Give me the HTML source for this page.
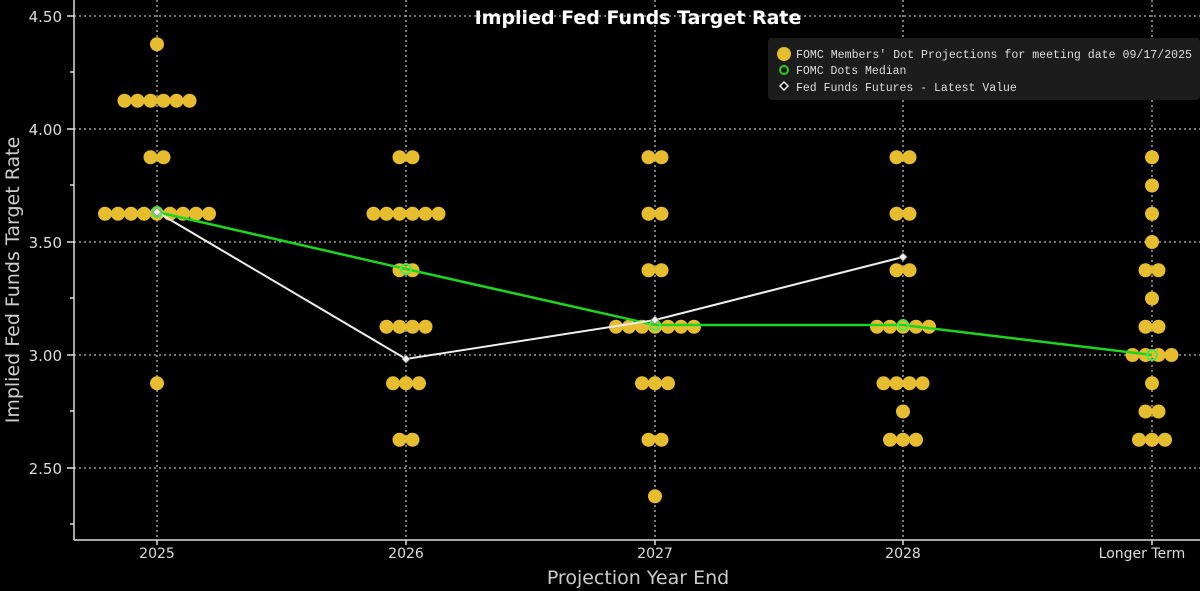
<!DOCTYPE html>
<html><head><meta charset="utf-8"><style>
html,body{margin:0;padding:0;background:#000;}
svg{display:block;font-family:"DejaVu Sans","Liberation Sans",sans-serif;}
</style></head><body>
<svg id="s" width="1200" height="591" viewBox="0 0 1200 591" xmlns="http://www.w3.org/2000/svg">
<rect width="1200" height="591" fill="#000"/>
<g stroke="#bbb" stroke-width="1.3" stroke-dasharray="2,3">
<line x1="74" y1="16" x2="1200" y2="16"/><line x1="74" y1="129" x2="1200" y2="129"/>
<line x1="74" y1="242" x2="1200" y2="242"/><line x1="74" y1="355" x2="1200" y2="355"/>
<line x1="74" y1="468" x2="1200" y2="468"/>
<line x1="157" y1="0" x2="157" y2="540"/><line x1="406" y1="0" x2="406" y2="540"/>
<line x1="655" y1="0" x2="655" y2="540"/><line x1="903" y1="0" x2="903" y2="540"/>
<line x1="1152" y1="0" x2="1152" y2="540"/>
</g>
<g stroke="#ddd" stroke-width="1.5">
<line x1="74" y1="0" x2="74" y2="540"/><line x1="74" y1="540" x2="1200" y2="540"/>
<line x1="67" y1="16" x2="74" y2="16"/><line x1="67" y1="129" x2="74" y2="129"/><line x1="67" y1="242" x2="74" y2="242"/><line x1="67" y1="355" x2="74" y2="355"/><line x1="67" y1="468" x2="74" y2="468"/>
<line x1="70" y1="72" x2="74" y2="72"/><line x1="70" y1="185" x2="74" y2="185"/><line x1="70" y1="298" x2="74" y2="298"/><line x1="70" y1="411" x2="74" y2="411"/><line x1="70" y1="524" x2="74" y2="524"/>
<line x1="157" y1="540" x2="157" y2="545"/><line x1="406" y1="540" x2="406" y2="545"/><line x1="655" y1="540" x2="655" y2="545"/><line x1="903" y1="540" x2="903" y2="545"/><line x1="1152" y1="540" x2="1152" y2="545"/>
</g>
<g fill="#ddd" font-size="15" text-anchor="end">
<text x="62" y="22">4.50</text><text x="62" y="135">4.00</text><text x="62" y="248">3.50</text><text x="62" y="361">3.00</text><text x="62" y="474">2.50</text>
</g>
<g fill="#ddd" font-size="14" text-anchor="middle">
<text x="157" y="558">2025</text><text x="406" y="558">2026</text><text x="655" y="558">2027</text><text x="903" y="558">2028</text><text x="1142" y="558">Longer Term</text>
</g>
<text x="638" y="584" fill="#ccc" font-size="19" text-anchor="middle">Projection Year End</text>
<text transform="translate(19,280) rotate(-90)" fill="#ccc" font-size="19" text-anchor="middle">Implied Fed Funds Target Rate</text>
<text x="638" y="24" fill="#fff" font-size="19" font-weight="bold" text-anchor="middle">Implied Fed Funds Target Rate</text>
<g id="dots" fill="#e5bd2f"></g>
<polyline points="157,212 406,269 655,325 903,325 1152,355" fill="none" stroke="#1ed41e" stroke-width="2.5"/>
<polyline points="157,212 406,359 655,320 903,257" fill="none" stroke="#eee" stroke-width="2"/>
<g fill="none" stroke="#4ee84e" stroke-width="2">
<circle cx="157" cy="212" r="5"/><circle cx="406" cy="269" r="5"/><circle cx="655" cy="325" r="5"/><circle cx="903" cy="325" r="5"/><circle cx="1152" cy="355" r="5"/>
</g>
<g fill="#eee" stroke="#888" stroke-width="0.8">
<path d="M157 208 L161 212 L157 216 L153 212Z"/><path d="M406 355 L410 359 L406 363 L402 359Z"/><path d="M655 316 L659 320 L655 324 L651 320Z"/><path d="M903 253 L907 257 L903 261 L899 257Z"/>
</g>
<rect x="768" y="38" width="432" height="62" rx="4" fill="#1c1c1c"/>
<circle cx="784" cy="54" r="7" fill="#e5bd2f"/>
<circle cx="784" cy="70" r="4" fill="none" stroke="#2ec82e" stroke-width="2"/>
<path d="M784 82 L788 86 L784 90 L780 86Z" fill="#000" stroke="#eee" stroke-width="1.5"/>
<g fill="#ddd" font-size="11.5" font-family="Liberation Mono, monospace">
<text x="796" y="58" textLength="396" lengthAdjust="spacingAndGlyphs">FOMC Members' Dot Projections for meeting date 09/17/2025</text>
<text x="796" y="74">FOMC Dots Median</text>
<text x="796" y="91">Fed Funds Futures - Latest Value</text>
</g>
</svg>
<script>
var data=[[157,[[4.375,1],[4.125,6],[3.875,2],[3.625,9],[2.875,1]]],
[406,[[3.875,2],[3.625,6],[3.375,2],[3.125,4],[2.875,3],[2.625,2]]],
[655,[[3.875,2],[3.625,2],[3.375,2],[3.125,7],[2.875,3],[2.625,2],[2.375,1]]],
[903,[[3.875,2],[3.625,2],[3.375,2],[3.125,5],[2.875,4],[2.75,1],[2.625,3]]],
[1152,[[3.875,1],[3.75,1],[3.625,1],[3.5,1],[3.375,2],[3.25,1],[3.125,2],[3.0,4],[2.875,1],[2.75,2],[2.625,3]]]];
var g=document.getElementById('dots'),ns='http://www.w3.org/2000/svg';
data.forEach(function(c){c[1].forEach(function(r){var y=355-(r[0]-3)*226;for(var i=0;i<r[1];i++){var x=c[0]+(i-(r[1]-1)/2)*13;var e=document.createElementNS(ns,'circle');e.setAttribute('cx',x);e.setAttribute('cy',y);e.setAttribute('r',7);g.appendChild(e);}});});
</script>
</body></html>
